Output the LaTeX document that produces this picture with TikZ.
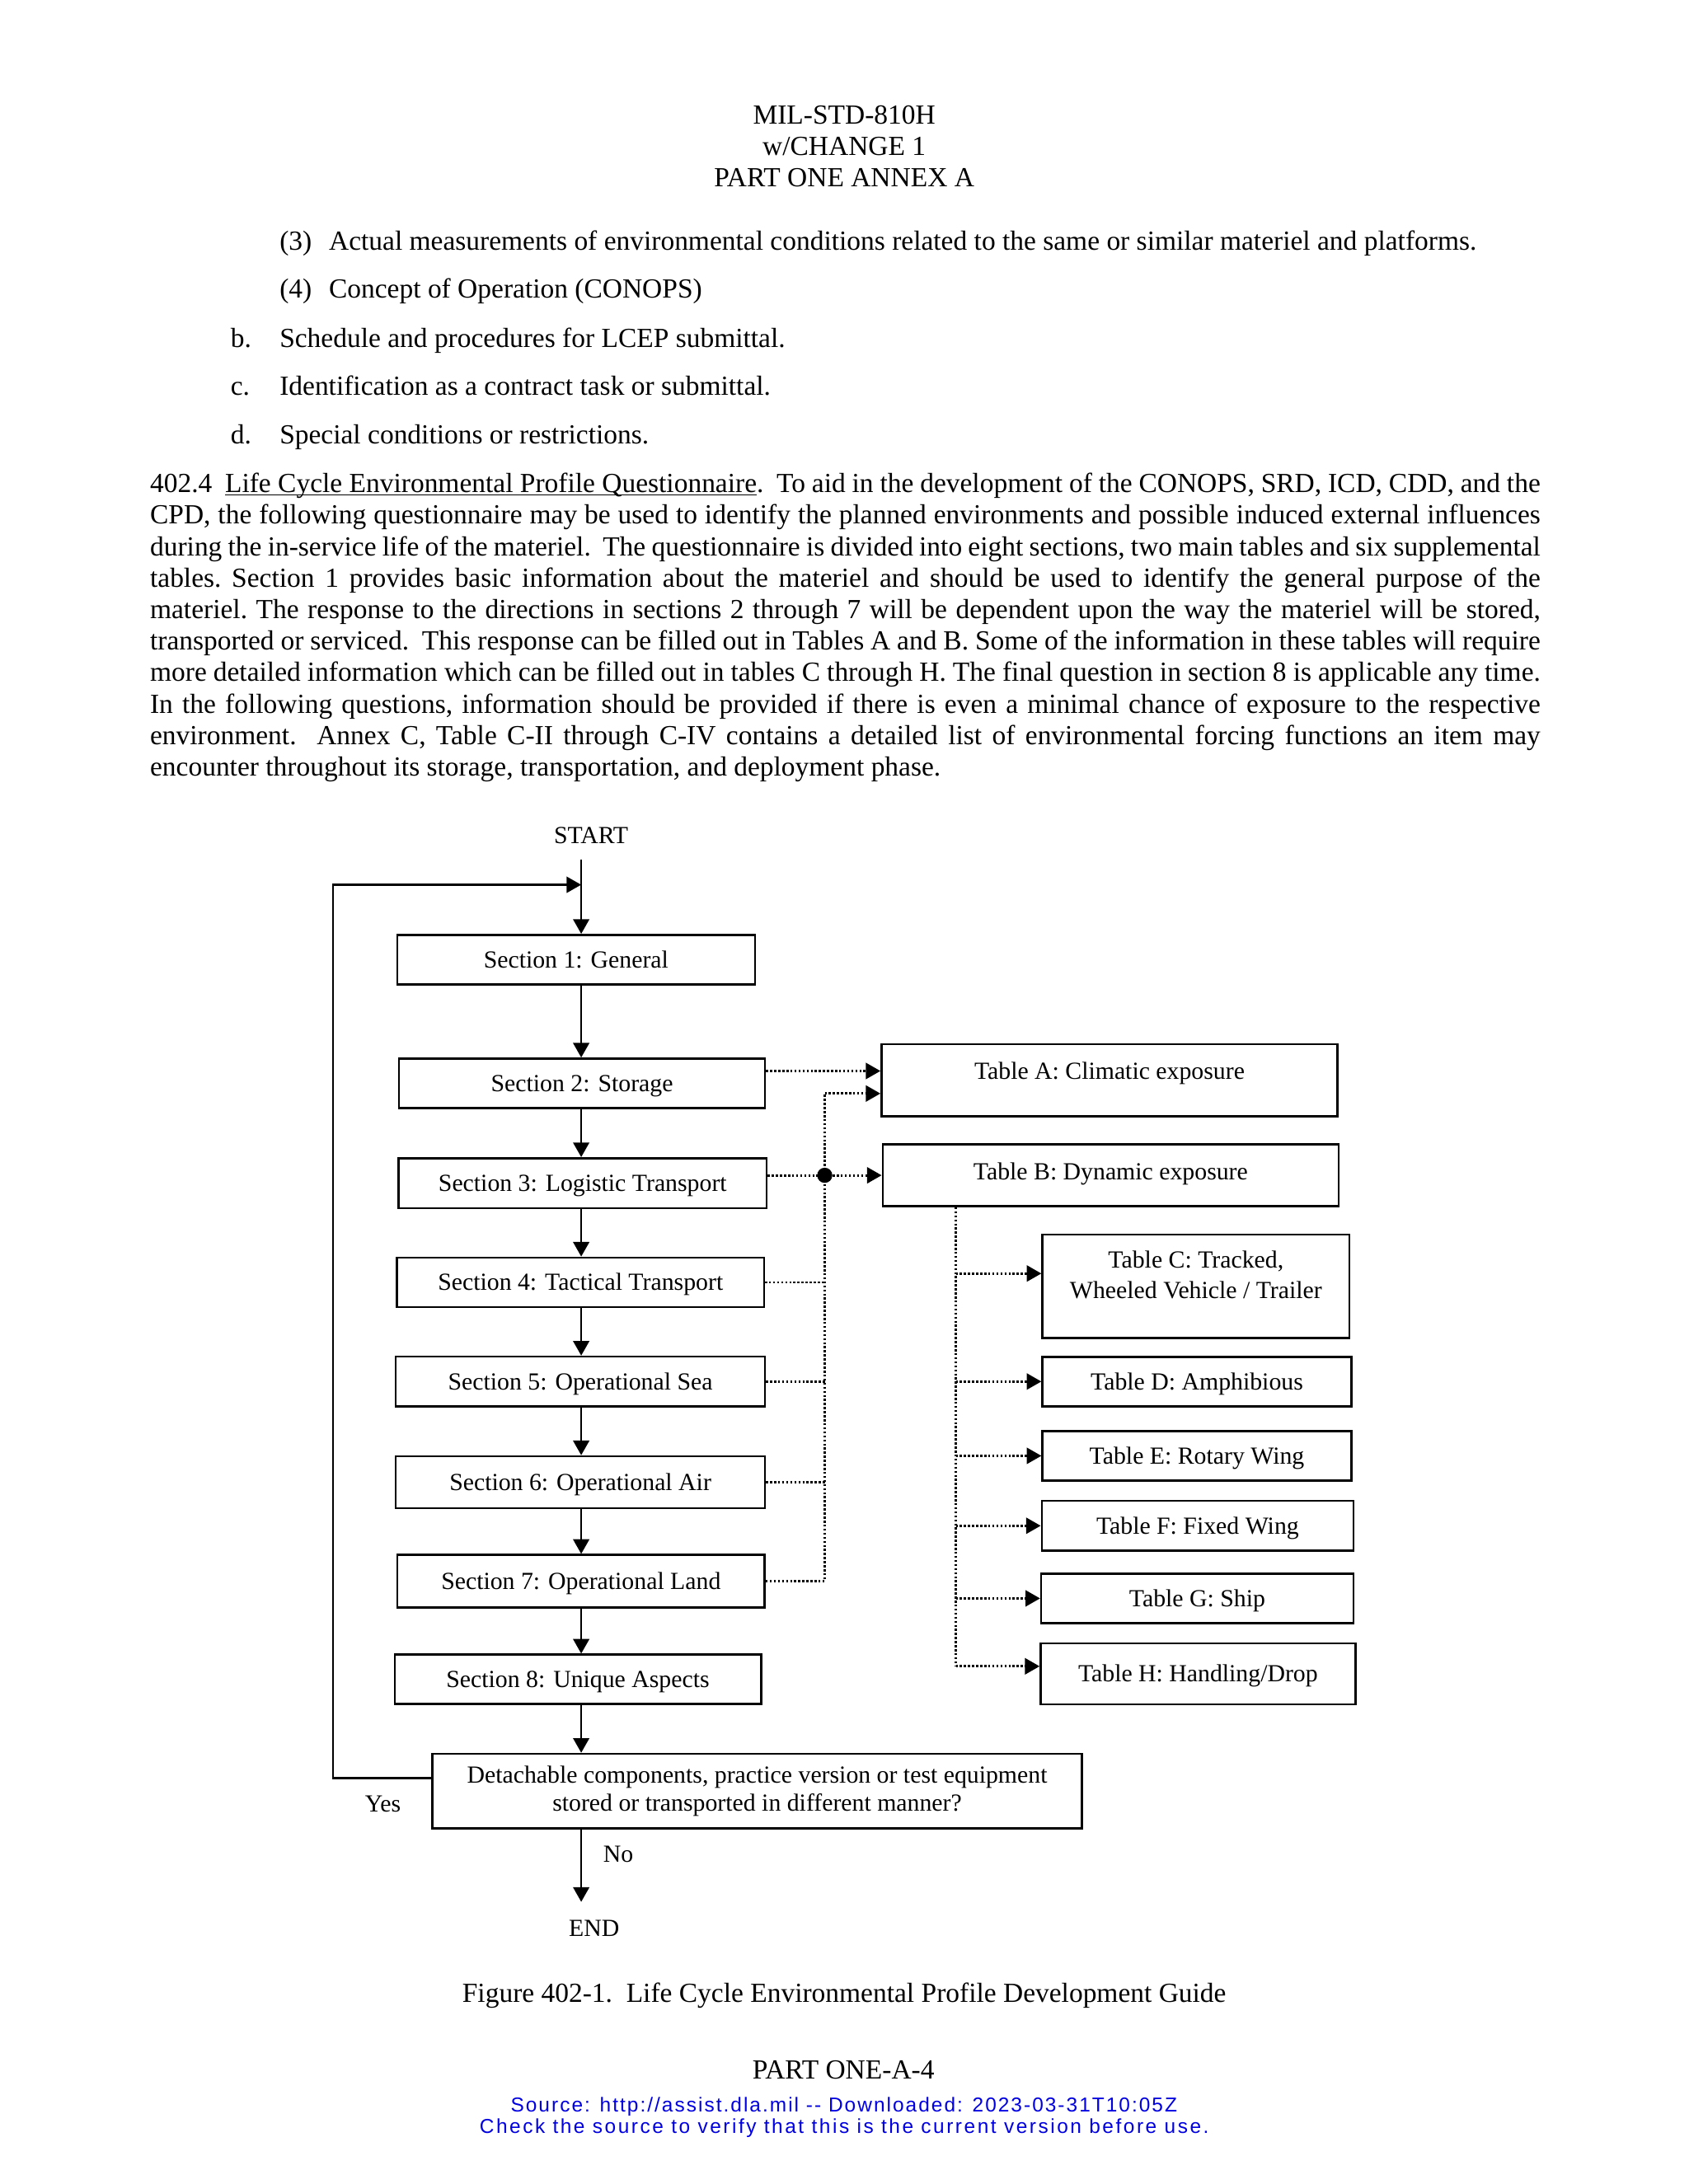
\documentclass[tikz,border=0pt]{standalone}
\usepackage{fontspec}
\setmainfont{Liberation Serif}
\newfontfamily\stampfont[LetterSpace=8.3]{Liberation Sans}
\usetikzlibrary{arrows.meta,positioning}
\newcommand\ulhead[1]{\setbox0\hbox{#1}\rlap{\rule[-1.2pt]{\wd0}{0.55pt}}\box0}

\begin{document}
\begin{tikzpicture}[
        x=0.505pt, y=-0.505pt,
        line width=0.75pt,
        txt/.style={inner sep=0pt, font=\fontsize{10}{11.5}\selectfont\frenchspacing},
        lbl/.style={inner sep=0pt, font=\fontsize{8.9}{11}\selectfont},
        sbox/.style={draw, inner sep=0pt, text height=7.9pt, text depth=2pt,
                     font=\fontsize{8.9}{11}\selectfont},
        arr/.style={-{Triangle[length=5.3pt,width=5.8pt]}},
        dline/.style={line width=0.85pt, dash pattern=on 0.75pt off 0.72pt},
        darr/.style={dline,arr},
        jdot/.style={circle,fill,inner sep=0pt,minimum size=5.5pt},
        stamp/.style={inner sep=0pt, anchor=base, text=stampblue,
                      font=\stampfont\fontsize{7.3}{8}\selectfont}
    ]
    \colorlet{stampblue}{blue!88!black}

    \path[fill=white,use as bounding box] (0,0) rectangle (1212,1568);

    % page head
    \node[txt,anchor=base] (hd1) at (606,88.8)  {MIL-STD-810H};
    \node[txt,anchor=base] (hd2) at (606,111.5) {w/CHANGE 1};
    \node[txt,anchor=base] (hd3) at (606,134.1) {PART ONE ANNEX A};

    % list items
    \node[txt,anchor=base west] (i3)  at (200,179.5)   {(3)};
    \node[txt,anchor=base west] (i3t) at (235.4,179.5) {Actual measurements of environmental conditions related to the same or similar materiel and platforms.};
    \node[txt,anchor=base west] (i4)  at (200,214)     {(4)};
    \node[txt,anchor=base west] (i4t) at (235.4,214)   {Concept of Operation (CONOPS)};
    \node[txt,anchor=base west] (ib)  at (164.8,249.5) {b.};
    \node[txt,anchor=base west] (ibt) at (200,249.5)   {Schedule and procedures for LCEP submittal.};
    \node[txt,anchor=base west] (ic)  at (164.8,284)   {c.};
    \node[txt,anchor=base west] (ict) at (200,284)     {Identification as a contract task or submittal.};
    \node[txt,anchor=base west] (id)  at (164.8,318.6) {d.};
    \node[txt,anchor=base west] (idt) at (200,318.6)   {Special conditions or restrictions.};

    % paragraph 402.4
    \node[txt,anchor=base west] (p1)  at (107,353.5) {\makebox[504pt][s]{402.4\ \ \ulhead{Life Cycle Environmental Profile Questionnaire}.\ \ To aid in the development of the CONOPS, SRD, ICD, CDD, and the}};
    \node[txt,anchor=base west] (p2)  at (107,376.1) {\makebox[504pt][s]{CPD, the following questionnaire may be used to identify the planned environments and possible induced external influences}};
    \node[txt,anchor=base west] (p3)  at (107,398.8) {\makebox[504pt][s]{during the in-service life of the materiel.\ \ The questionnaire is divided into eight sections, two main tables and six supplemental}};
    \node[txt,anchor=base west] (p4)  at (107,421.4) {\makebox[504pt][s]{tables. Section 1 provides basic information about the materiel and should be used to identify the general purpose of the}};
    \node[txt,anchor=base west] (p5)  at (107,444.1) {\makebox[504pt][s]{materiel. The response to the directions in sections 2 through 7 will be dependent upon the way the materiel will be stored,}};
    \node[txt,anchor=base west] (p6)  at (107,466.7) {\makebox[504pt][s]{transported or serviced.\ \ This response can be filled out in Tables A and B. Some of the information in these tables will require}};
    \node[txt,anchor=base west] (p7)  at (107,489.3) {\makebox[504pt][s]{more detailed information which can be filled out in tables C through H. The final question in section 8 is applicable any time.}};
    \node[txt,anchor=base west] (p8)  at (107,512.0) {\makebox[504pt][s]{In the following questions, information should be provided if there is even a minimal chance of exposure to the respective}};
    \node[txt,anchor=base west] (p9)  at (107,534.6) {\makebox[504pt][s]{environment.\ \ Annex C, Table C-II through C-IV contains a detailed list of environmental forcing functions an item may}};
    \node[txt,anchor=base west] (p10) at (107,557.3) {encounter throughout its storage, transportation, and deployment phase.};

    % flow chart: sections
    \node[sbox,minimum width=129.7pt,minimum height=17.9pt] (s1) at (413.5,688.9)   {Section 1: General};
    \node[sbox,minimum width=132.7pt,minimum height=18pt]   (s2) at (417.8,777.8)   {Section 2: Storage};
    \node[sbox,minimum width=133.5pt,minimum height=18.2pt] (s3) at (418.2,849.5)   {Section 3: Logistic Transport};
    \node[sbox,minimum width=133pt,minimum height=18pt]     (s4) at (416.7,920.7)   {Section 4: Tactical Transport};
    \node[sbox,minimum width=133.8pt,minimum height=18pt]   (s5) at (416.6,991.8)   {Section 5: Operational Sea};
    \node[sbox,minimum width=133.8pt,minimum height=18.9pt] (s6) at (416.6,1064.2)  {Section 6: Operational Air};
    \node[sbox,minimum width=133.2pt,minimum height=19.1pt] (s7) at (417.05,1135.25) {Section 7: Operational Land};
    \node[sbox,minimum width=132.8pt,minimum height=17.9pt] (s8) at (414.8,1205.65) {Section 8: Unique Aspects};
    \node[draw,inner sep=0pt,minimum width=235.5pt,minimum height=27.1pt,align=center,
          font=\fontsize{8.9}{9.95}\selectfont] (q) at (543.5,1285.95)
          {Detachable components, practice version or test equipment\\stored or transported in different manner?};

    % flow chart: tables
    \node[sbox,minimum width=165.3pt,text height=12.8pt,text depth=13.4pt] (ta) at (796.4,775.55) {Table A: Climatic exposure};
    \node[sbox,minimum width=165.3pt,text height=12.8pt,text depth=9.6pt]  (tb) at (797.25,843.8) {Table B: Dynamic exposure};
    \node[draw,inner sep=0pt,font=\fontsize{8.9}{11}\selectfont] (tc) at (858.45,923.5)
          {\parbox[c][37.6pt][t]{111.3pt}{\centering\vspace*{6pt}Table C: Tracked,\\Wheeled Vehicle / Trailer}};
    \node[sbox,minimum width=112pt,minimum height=17.9pt]   (td) at (859.15,991.85)  {Table D: Amphibious};
    \node[sbox,minimum width=112pt,minimum height=18pt]     (te) at (859.15,1045.2)  {Table E: Rotary Wing};
    \node[sbox,minimum width=113pt,minimum height=18.1pt]   (tf) at (859.65,1095.4)  {Table F: Fixed Wing};
    \node[sbox,minimum width=113.2pt,minimum height=18pt]   (tg) at (859.4,1147.55)  {Table G: Ship};
    \node[sbox,minimum width=114.1pt,minimum height=22.1pt] (th) at (859.95,1201.75) {Table H: Handling/Drop};

    % labels
    \node[lbl] (start)  at (424.3,599.7)  {START};
    \node[lbl] (yes)    at (274.8,1295)   {Yes};
    \node[lbl] (no)     at (443.8,1331)   {No};
    \node[lbl] (endlbl) at (426.5,1384.4) {END};

    % main spine
    \coordinate (top)    at (417.2,617);
    \coordinate (fbR)    at (417.2,635.2);
    \coordinate (fbL)    at (239,635.2);
    \coordinate (endtip) at (417.2,1365.4);
    \draw[arr] (top) -- (s1.north -| top);
    \foreach \a/\b in {s1/s2,s2/s3,s3/s4,s4/s5,s5/s6,s6/s7,s7/s8,s8/q}
        \draw[arr] (\a.south -| top) -- (\b.north -| top);
    \draw[arr] (q.south -| top) -- (endtip);
    \coordinate (qy) at ([yshift=4.7pt]q.west);
    \draw[arr] (qy) -| (fbL) -- (fbR);

    % dotted links to tables A and B
    \coordinate (a1) at ([yshift=3.36pt]ta.west);
    \coordinate (a2) at ([yshift=-4.82pt]ta.west);
    \coordinate (busT) at (592,0 |- a2);
    \coordinate (busB) at (592,0 |- s7.east);
    \coordinate (jd)   at (592,0 |- tb.west);
    \draw[darr]  (s2.east |- a1) -- (a1);
    \draw[darr]  (busT) -- (a2);
    \draw[dline] (s7.east) -- (busB) -- (busT);
    \draw[darr]  (s3.east |- jd) -- (tb.west);
    \foreach \s in {s4,s5,s6}
        \draw[dline] (\s.east) -- (\s.east -| busT);
    \node[jdot] (jdot) at (jd) {};

    % dotted links to tables C to H
    \coordinate (brT) at (686.1,0 |- tb.south);
    \coordinate (cc)  at ([yshift=4.65pt]tc.west);
    \coordinate (ch)  at ([yshift=2.75pt]th.west);
    \draw[dline] (brT) -- (brT |- ch);
    \draw[darr] (brT |- cc) -- (cc);
    \foreach \t in {td,te,tf,tg}
        \draw[darr] (brT |- \t.west) -- (\t.west);
    \draw[darr] (brT |- ch) -- (ch);

    % caption and foot
    \node[txt,anchor=base] (cap) at (606,1437.5) {Figure 402-1.\ \ Life Cycle Environmental Profile Development Guide};
    \node[txt,anchor=base] (pg)  at (605.4,1492.3) {PART ONE-A-4};
    \node[stamp] (src1) at (605.8,1516)  {Source: http://assist.dla.mil -{}- Downloaded: 2023-03-31T10:05Z};
    \node[stamp] (src2) at (606,1531.8)  {\addfontfeature{LetterSpace=10.4}Check the source to verify that this is the current version before use.};
\end{tikzpicture}
\end{document}
